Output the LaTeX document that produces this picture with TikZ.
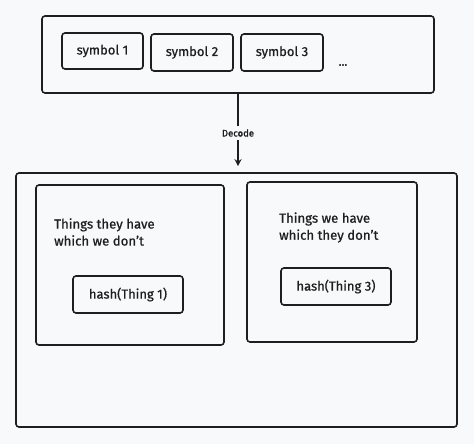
\documentclass[tikz,border=0pt]{standalone}
\usepackage{fontspec}
\setmainfont{Fira Sans}[FakeBold=0.7]
\newfontfamily\decfont{Fira Sans}[FakeBold=1.2]
\usetikzlibrary{arrows.meta}
\definecolor{bg}{HTML}{F8F9FA}
\definecolor{ink}{HTML}{1E1E1E}
\tikzset{
  box/.style={draw=ink, line width=1.6pt, rounded corners=3pt, inner sep=0pt, font=\fontsize{13}{15}\selectfont, text=ink},
  lbl/.style={inner sep=0pt, font=\fontsize{13.2}{17}\selectfont, text=ink, align=left, anchor=west},
}
\begin{document}
\begin{tikzpicture}[x=1pt,y=-1pt]
\fill[bg] (0,0) rectangle (474,444);
\useasboundingbox (0,0) rectangle (474,444);
\node[box, minimum width=392pt, minimum height=77pt] (top) at (238,54.5) {};
\node[box, minimum width=81pt, minimum height=36pt] (s1) at (102.5,51) {symbol 1};
\node[box, minimum width=82pt, minimum height=37pt] (s2) at (192,52.5) {symbol 2};
\node[box, minimum width=82pt, minimum height=37pt] (s3) at (282,52.5) {symbol 3};
\node[inner sep=0pt, text=ink, font=\fontsize{12}{13}\selectfont] (dots) at (343,65) {...};
\node[box, minimum width=441pt, minimum height=254pt] (big) at (236.5,300) {};
\node[box, minimum width=188pt, minimum height=160pt] (left) at (130,265) {};
\node[box, minimum width=170pt, minimum height=160pt] (right) at (332,262) {};
\node[lbl] (lt) at (54,232) {Things they have\\which we don't};
\node[lbl] (rt) at (279,227.5) {Things we have\\which they don't};
\node[box, minimum width=110pt, minimum height=37pt] (h1) at (128,294.5) {hash(Thing 1)};
\node[box, minimum width=110pt, minimum height=37pt] (h3) at (336,286.5) {hash(Thing 3)};
\draw[draw=ink, line width=1.6pt, -{Stealth[length=7pt,width=7pt]}, shorten >=6pt] (top.south -| 238,0) -- node[fill=bg, inner sep=3pt, text=ink, font=\decfont\fontsize{9.5}{11}\selectfont] (dec) {Decode} (big.north -| 238,0);
\end{tikzpicture}
\end{document}
